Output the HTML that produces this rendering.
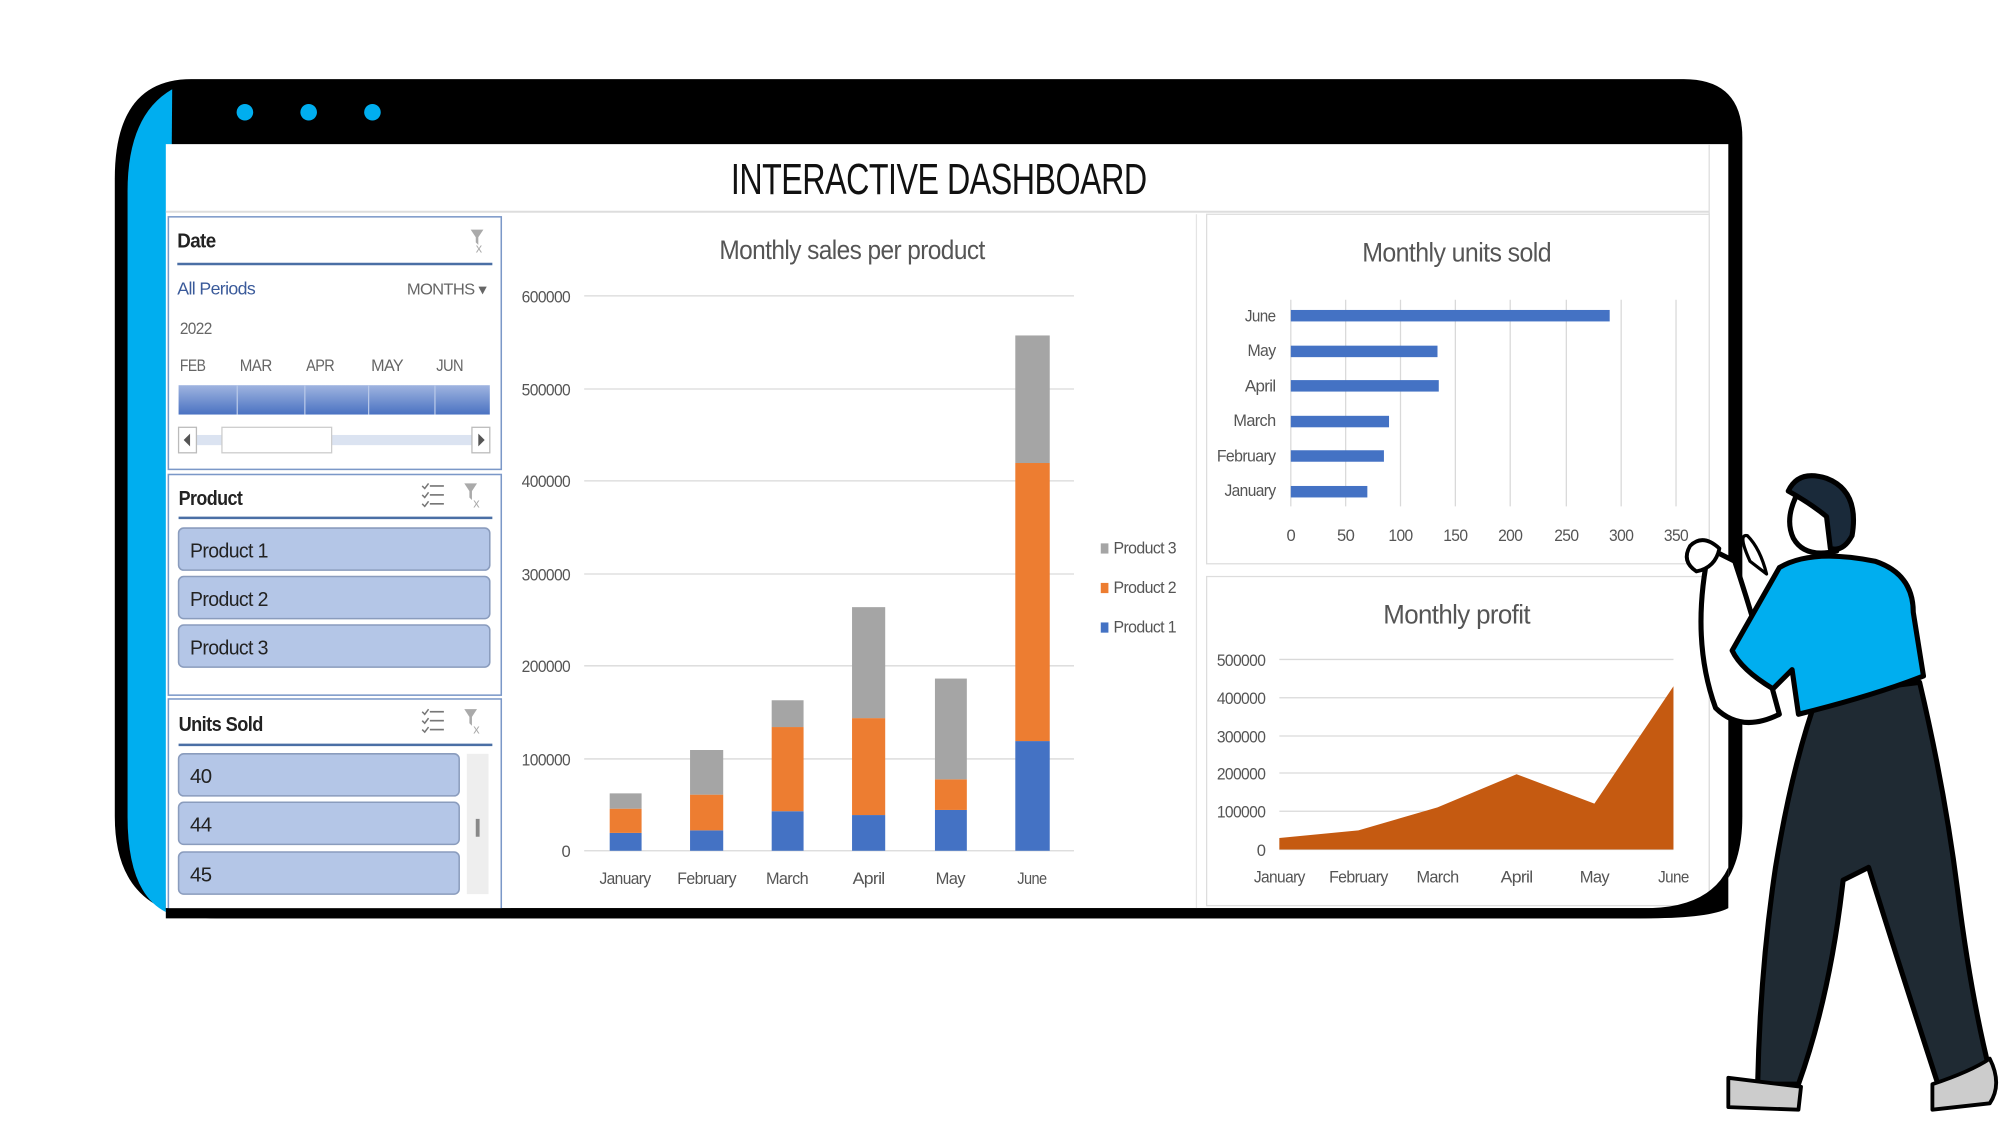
<!DOCTYPE html>
<html><head><meta charset="utf-8"><style>
html,body{margin:0;padding:0;background:#fff;width:2000px;height:1125px;overflow:hidden}
svg{display:block}
text{font-family:"Liberation Sans Narrow","Liberation Sans",sans-serif;letter-spacing:-0.5px}
</style></head><body>
<svg width="2000" height="1125" viewBox="0 0 1568 882" xmlns="http://www.w3.org/2000/svg">
<path d="M150 62 H1320 Q1366 62 1366 108 V640 Q1366 720 1286 720 H170 Q90 720 90 640 V140 Q90 62 150 62 Z" fill="#000"/>
<path d="M100 640 V150 Q100 90 135 70 L130 715 Q100 700 100 640 Z" fill="#00aeef"/>
<rect x="130" y="113" width="1225" height="599" fill="#fff"/>
<circle cx="192" cy="88" r="6.5" fill="#00aeef"/><circle cx="242" cy="88" r="6.5" fill="#00aeef"/><circle cx="292" cy="88" r="6.5" fill="#00aeef"/>
<text x="736" y="152" font-size="34" text-anchor="middle" fill="#111" textLength="326" lengthAdjust="spacingAndGlyphs">INTERACTIVE DASHBOARD</text>
<line x1="130" y1="166" x2="1340" y2="166" stroke="#ddd" stroke-width="1.5"/>
<line x1="1340" y1="113" x2="1340" y2="712" stroke="#ddd"/>
<line x1="938" y1="168" x2="938" y2="712" stroke="#e4e4e4"/>

<rect x="132" y="170" width="261" height="198" fill="#fff" stroke="#7b98c8" stroke-width="1.2"/>
<text x="139" y="194" font-size="16" font-weight="bold" fill="#222" textLength="30" lengthAdjust="spacingAndGlyphs">Date</text>
<path d="M369 180 h10 l-4 6 v6 l-2 -2 v-4 z" fill="#aaa"/><text x="373" y="198" font-size="10" fill="#aaa">x</text>
<line x1="139" y1="207" x2="386" y2="207" stroke="#4a6fa5" stroke-width="2"/>
<text x="139" y="231" font-size="14" fill="#3a5a9a" textLength="61" lengthAdjust="spacingAndGlyphs">All Periods</text>
<text x="319" y="231" font-size="12" fill="#666" textLength="62" lengthAdjust="spacingAndGlyphs">MONTHS ▾</text>
<text x="141" y="262" font-size="13" fill="#666" textLength="25" lengthAdjust="spacingAndGlyphs">2022</text>
<g font-size="13" fill="#666"><text x="141" y="291" textLength="20" lengthAdjust="spacingAndGlyphs">FEB</text><text x="188" y="291" textLength="25" lengthAdjust="spacingAndGlyphs">MAR</text><text x="240" y="291" textLength="22" lengthAdjust="spacingAndGlyphs">APR</text><text x="291" y="291" textLength="25" lengthAdjust="spacingAndGlyphs">MAY</text><text x="342" y="291" textLength="21" lengthAdjust="spacingAndGlyphs">JUN</text></g>
<defs><linearGradient id="tg" x1="0" y1="0" x2="0" y2="1"><stop offset="0" stop-color="#9fb4e0"/><stop offset="1" stop-color="#4a72c2"/></linearGradient></defs>
<rect x="140" y="302" width="244" height="23" fill="url(#tg)"/>
<g stroke="#b8c8e8" stroke-width="1"><line x1="186" y1="302" x2="186" y2="325"/><line x1="239" y1="302" x2="239" y2="325"/><line x1="289" y1="302" x2="289" y2="325"/><line x1="341" y1="302" x2="341" y2="325"/></g>
<rect x="150" y="341" width="222" height="8" fill="#dbe3f1"/>
<rect x="140" y="335" width="14" height="20" fill="#fff" stroke="#bbb"/><path d="M149 340 l-5 5 l5 5z" fill="#555"/>
<rect x="370" y="335" width="14" height="20" fill="#fff" stroke="#bbb"/><path d="M375 340 l5 5 l-5 5z" fill="#555"/>
<rect x="174" y="335" width="86" height="20" fill="#fff" stroke="#ccc"/>

<rect x="132" y="372" width="261" height="173" fill="#fff" stroke="#7b98c8" stroke-width="1.2"/>
<text x="140" y="396" font-size="16" font-weight="bold" fill="#222" textLength="50" lengthAdjust="spacingAndGlyphs">Product</text>
<g stroke="#777" stroke-width="1.3"><line x1="337" y1="381" x2="348" y2="381"/><line x1="337" y1="388" x2="348" y2="388"/><line x1="337" y1="395" x2="348" y2="395"/></g>
<g fill="none" stroke="#777" stroke-width="1.2"><path d="M331 381 l2 2 l3 -4"/><path d="M331 388 l2 2 l3 -4"/><path d="M331 395 l2 2 l3 -4"/></g>
<path d="M364 379 h10 l-4 6 v7 l-2 -2 v-5 z" fill="#aaa"/><text x="371" y="398" font-size="10" fill="#aaa">x</text>
<line x1="140" y1="406" x2="386" y2="406" stroke="#4a6fa5" stroke-width="2"/>
<g fill="#b4c6e7" stroke="#8a9cbd" stroke-width="1.2">
<rect x="140" y="414" width="244" height="33" rx="4"/><rect x="140" y="452" width="244" height="33" rx="4"/><rect x="140" y="490" width="244" height="33" rx="4"/></g>
<g font-size="16" fill="#222"><text x="149" y="437" textLength="61" lengthAdjust="spacingAndGlyphs">Product 1</text><text x="149" y="475" textLength="61" lengthAdjust="spacingAndGlyphs">Product 2</text><text x="149" y="513" textLength="61" lengthAdjust="spacingAndGlyphs">Product 3</text></g>

<rect x="132" y="548" width="261" height="170" fill="#fff" stroke="#7b98c8" stroke-width="1.2"/>
<text x="140" y="573" font-size="16" font-weight="bold" fill="#222" textLength="66" lengthAdjust="spacingAndGlyphs">Units Sold</text>
<g stroke="#777" stroke-width="1.3"><line x1="337" y1="558" x2="348" y2="558"/><line x1="337" y1="565" x2="348" y2="565"/><line x1="337" y1="572" x2="348" y2="572"/></g>
<g fill="none" stroke="#777" stroke-width="1.2"><path d="M331 558 l2 2 l3 -4"/><path d="M331 565 l2 2 l3 -4"/><path d="M331 572 l2 2 l3 -4"/></g>
<path d="M364 556 h10 l-4 6 v7 l-2 -2 v-5 z" fill="#aaa"/><text x="371" y="575" font-size="10" fill="#aaa">x</text>
<line x1="140" y1="584" x2="386" y2="584" stroke="#4a6fa5" stroke-width="2"/>
<g fill="#b4c6e7" stroke="#8a9cbd" stroke-width="1.2">
<rect x="140" y="591" width="220" height="33" rx="4"/><rect x="140" y="629" width="220" height="33" rx="4"/><rect x="140" y="668" width="220" height="33" rx="4"/></g>
<g font-size="16" fill="#222"><text x="149" y="614">40</text><text x="149" y="652">44</text><text x="149" y="691">45</text></g>
<rect x="366" y="591" width="17" height="110" fill="#eee"/><rect x="373" y="642" width="3" height="14" fill="#888"/>
<rect x="130" y="712" width="270" height="8" fill="#000"/>

<text x="668" y="203" font-size="21" text-anchor="middle" fill="#555" textLength="208" lengthAdjust="spacingAndGlyphs">Monthly sales per product</text>
<g stroke="#d9d9d9" stroke-width="1">
<line x1="458" y1="232" x2="842" y2="232"/><line x1="458" y1="305" x2="842" y2="305"/><line x1="458" y1="377" x2="842" y2="377"/><line x1="458" y1="450" x2="842" y2="450"/><line x1="458" y1="522" x2="842" y2="522"/><line x1="458" y1="595" x2="842" y2="595"/><line x1="458" y1="667" x2="842" y2="667"/></g>
<g font-size="13" fill="#555" text-anchor="end"><text x="447" y="237" textLength="38" lengthAdjust="spacingAndGlyphs">600000</text><text x="447" y="310" textLength="38" lengthAdjust="spacingAndGlyphs">500000</text><text x="447" y="382" textLength="38" lengthAdjust="spacingAndGlyphs">400000</text><text x="447" y="455" textLength="38" lengthAdjust="spacingAndGlyphs">300000</text><text x="447" y="527" textLength="38" lengthAdjust="spacingAndGlyphs">200000</text><text x="447" y="600" textLength="38" lengthAdjust="spacingAndGlyphs">100000</text><text x="447" y="672">0</text></g>
<g fill="#4472c4"><rect x="478" y="653" width="25" height="14"/><rect x="541" y="651" width="26" height="16"/><rect x="605" y="636" width="25" height="31"/><rect x="668" y="639" width="26" height="28"/><rect x="733" y="635" width="25" height="32"/><rect x="796" y="581" width="27" height="86"/></g>
<g fill="#ed7d31"><rect x="478" y="634" width="25" height="19"/><rect x="541" y="623" width="26" height="28"/><rect x="605" y="570" width="25" height="66"/><rect x="668" y="563" width="26" height="76"/><rect x="733" y="611" width="25" height="24"/><rect x="796" y="363" width="27" height="218"/></g>
<g fill="#a5a5a5"><rect x="478" y="622" width="25" height="12"/><rect x="541" y="588" width="26" height="35"/><rect x="605" y="549" width="25" height="21"/><rect x="668" y="476" width="26" height="87"/><rect x="733" y="532" width="25" height="79"/><rect x="796" y="263" width="27" height="100"/></g>
<g font-size="13" fill="#555" text-anchor="middle"><text x="490" y="693" textLength="40" lengthAdjust="spacingAndGlyphs">January</text><text x="554" y="693" textLength="46" lengthAdjust="spacingAndGlyphs">February</text><text x="617" y="693" textLength="33" lengthAdjust="spacingAndGlyphs">March</text><text x="681" y="693" textLength="25" lengthAdjust="spacingAndGlyphs">April</text><text x="745" y="693" textLength="23" lengthAdjust="spacingAndGlyphs">May</text><text x="809" y="693" textLength="23" lengthAdjust="spacingAndGlyphs">June</text></g>
<rect x="863" y="426" width="6" height="8" fill="#a5a5a5"/><rect x="863" y="457" width="6" height="8" fill="#ed7d31"/><rect x="863" y="488" width="6" height="8" fill="#4472c4"/>
<g font-size="13" fill="#555"><text x="873" y="434" textLength="49" lengthAdjust="spacingAndGlyphs">Product 3</text><text x="873" y="465" textLength="49" lengthAdjust="spacingAndGlyphs">Product 2</text><text x="873" y="496" textLength="49" lengthAdjust="spacingAndGlyphs">Product 1</text></g>

<rect x="946" y="168" width="394" height="274" fill="#fff" stroke="#ddd"/>
<text x="1142" y="205" font-size="21" text-anchor="middle" fill="#555" textLength="148" lengthAdjust="spacingAndGlyphs">Monthly units sold</text>
<g stroke="#d9d9d9"><line x1="1012" y1="235" x2="1012" y2="397"/><line x1="1055" y1="235" x2="1055" y2="397"/><line x1="1098" y1="235" x2="1098" y2="397"/><line x1="1141" y1="235" x2="1141" y2="397"/><line x1="1184" y1="235" x2="1184" y2="397"/><line x1="1228" y1="235" x2="1228" y2="397"/><line x1="1271" y1="235" x2="1271" y2="397"/><line x1="1314" y1="235" x2="1314" y2="397"/></g>
<g fill="#4472c4"><rect x="1012" y="243" width="250" height="9"/><rect x="1012" y="271" width="115" height="9"/><rect x="1012" y="298" width="116" height="9"/><rect x="1012" y="326" width="77" height="9"/><rect x="1012" y="353" width="73" height="9"/><rect x="1012" y="381" width="60" height="9"/></g>
<g font-size="13" fill="#555" text-anchor="end"><text x="1000" y="252" textLength="24" lengthAdjust="spacingAndGlyphs">June</text><text x="1000" y="279" textLength="22" lengthAdjust="spacingAndGlyphs">May</text><text x="1000" y="307" textLength="24" lengthAdjust="spacingAndGlyphs">April</text><text x="1000" y="334" textLength="33" lengthAdjust="spacingAndGlyphs">March</text><text x="1000" y="362" textLength="46" lengthAdjust="spacingAndGlyphs">February</text><text x="1000" y="389" textLength="40" lengthAdjust="spacingAndGlyphs">January</text></g>
<g font-size="13" fill="#555" text-anchor="middle"><text x="1012" y="424">0</text><text x="1055" y="424">50</text><text x="1098" y="424" textLength="19" lengthAdjust="spacingAndGlyphs">100</text><text x="1141" y="424" textLength="19" lengthAdjust="spacingAndGlyphs">150</text><text x="1184" y="424" textLength="19" lengthAdjust="spacingAndGlyphs">200</text><text x="1228" y="424" textLength="19" lengthAdjust="spacingAndGlyphs">250</text><text x="1271" y="424" textLength="19" lengthAdjust="spacingAndGlyphs">300</text><text x="1314" y="424" textLength="19" lengthAdjust="spacingAndGlyphs">350</text></g>

<rect x="946" y="452" width="394" height="258" fill="#fff" stroke="#ddd"/>
<text x="1142" y="489" font-size="21" text-anchor="middle" fill="#555" textLength="115" lengthAdjust="spacingAndGlyphs">Monthly profit</text>
<g stroke="#d9d9d9"><line x1="1003" y1="517" x2="1312" y2="517"/><line x1="1003" y1="547" x2="1312" y2="547"/><line x1="1003" y1="577" x2="1312" y2="577"/><line x1="1003" y1="606" x2="1312" y2="606"/><line x1="1003" y1="636" x2="1312" y2="636"/><line x1="1003" y1="666" x2="1312" y2="666"/></g>
<g font-size="13" fill="#555" text-anchor="end"><text x="992" y="522" textLength="38" lengthAdjust="spacingAndGlyphs">500000</text><text x="992" y="552" textLength="38" lengthAdjust="spacingAndGlyphs">400000</text><text x="992" y="582" textLength="38" lengthAdjust="spacingAndGlyphs">300000</text><text x="992" y="611" textLength="38" lengthAdjust="spacingAndGlyphs">200000</text><text x="992" y="641" textLength="38" lengthAdjust="spacingAndGlyphs">100000</text><text x="992" y="671">0</text></g>
<path d="M1003 657 L1065 651 L1127 633 L1189 607 L1250 630 L1312 538 L1312 666 L1003 666Z" fill="#c55a11"/>
<g font-size="13" fill="#555" text-anchor="middle"><text x="1003" y="692" textLength="40" lengthAdjust="spacingAndGlyphs">January</text><text x="1065" y="692" textLength="46" lengthAdjust="spacingAndGlyphs">February</text><text x="1127" y="692" textLength="33" lengthAdjust="spacingAndGlyphs">March</text><text x="1189" y="692" textLength="25" lengthAdjust="spacingAndGlyphs">April</text><text x="1250" y="692" textLength="23" lengthAdjust="spacingAndGlyphs">May</text><text x="1312" y="692" textLength="24" lengthAdjust="spacingAndGlyphs">June</text></g>
<path d="M400 712 H1290 Q1340 712 1355 680 V712 Q1340 720 1290 720 H400Z" fill="#000"/>

<g stroke="#000" stroke-width="4" stroke-linejoin="round">
<path d="M1340 430 Q1325 500 1345 555 Q1365 575 1395 560 L1380 505 Q1370 470 1360 440 Z" fill="#fff"/>
<path d="M1425 545 L1505 535 Q1525 620 1535 700 Q1545 780 1560 840 L1520 852 Q1490 760 1465 680 L1445 690 Q1435 780 1410 850 L1378 850 Q1380 760 1392 680 Q1405 600 1425 545Z" fill="#1f2a33"/>
<path d="M1395 445 Q1420 430 1470 440 Q1500 450 1500 480 L1508 530 Q1470 545 1410 560 L1405 525 L1390 540 Q1365 525 1358 510 Z" fill="#00aeef"/>
<path d="M1412 382 Q1398 405 1406 422 Q1415 438 1440 432 L1440 410 Z" fill="#fff"/>
<path d="M1402 385 Q1410 368 1432 375 Q1458 385 1452 420 Q1445 433 1435 430 L1432 405 Q1420 395 1402 385Z" fill="#1a2a3a"/>
<path d="M1385 450 Q1380 430 1370 420 Q1362 418 1372 440 Z" fill="#fff" stroke-width="2.5"/>
<path d="M1325 428 Q1335 418 1348 430 Q1345 445 1330 448 Q1318 440 1325 428Z" fill="#fff" stroke-width="3"/>
<path d="M1355 845 Q1380 848 1412 852 L1410 870 L1355 868 Z" fill="#ccc" stroke-width="3"/>
<path d="M1515 850 Q1545 840 1560 830 Q1570 850 1560 865 L1515 870 Z" fill="#ccc" stroke-width="3"/>
</g>
</svg>
</body></html>
